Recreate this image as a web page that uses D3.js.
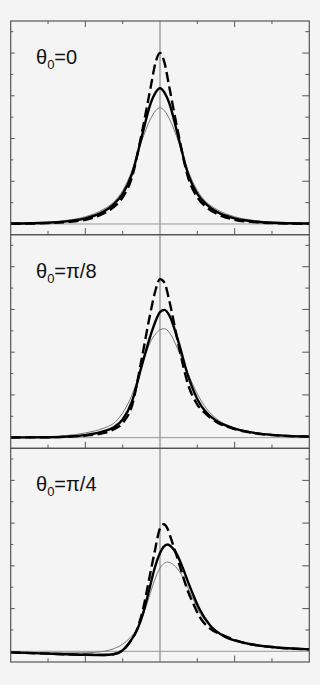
<!DOCTYPE html>
<html>
<head>
<meta charset="utf-8">
<script src="https://cdn.jsdelivr.net/npm/d3@7"></script>
<style>
  html, body { margin: 0; padding: 0; background: #f4f4f4; }
  svg { display: block; }
</style>
</head>
<body>
<script>
const width = 320
const height = 685

// x grid shared by the two upper panels
const xs = [-4, -3, -2.5, -2, -1.5, -1.25, -1, -0.75, -0.5, -0.25, -0.12, 0, 0.12, 0.25, 0.5, 0.75, 1, 1.25, 1.5, 2, 2.5, 3, 4]

const p1_thick  = [0.02, 0.06, 0.12, 0.26, 0.59, 0.91, 1.41, 2.35, 4.0, 5.65, 6.15, 6.35, 6.15, 5.65, 4.0, 2.35, 1.41, 0.91, 0.59, 0.26, 0.12, 0.06, 0.02]
const p1_dashed = [0.01, 0.04, 0.09, 0.2, 0.5, 0.78, 1.25, 2.19, 4.15, 6.4, 7.55, 8.0, 7.55, 6.4, 4.15, 2.19, 1.25, 0.78, 0.5, 0.2, 0.09, 0.04, 0.01]
const p1_thin   = [0.04, 0.09, 0.17, 0.34, 0.7, 1.01, 1.56, 2.5, 3.83, 4.93, 5.3, 5.44, 5.3, 4.93, 3.83, 2.5, 1.56, 1.01, 0.7, 0.34, 0.17, 0.09, 0.04]

const p2_thick  = [0.01, 0.02, 0.05, 0.12, 0.3, 0.48, 0.85, 1.7, 3.3, 4.8, 5.45, 5.88, 5.98, 5.72, 4.45, 2.9, 1.8, 1.16, 0.8, 0.42, 0.23, 0.13, 0.05]
const p2_dashed = [0.01, 0.02, 0.04, 0.1, 0.22, 0.38, 0.69, 1.5, 3.6, 5.9, 6.9, 7.42, 7.25, 6.4, 4.3, 2.5, 1.55, 1.08, 0.75, 0.4, 0.22, 0.12, 0.05]
const p2_thin   = [0.02, 0.05, 0.1, 0.22, 0.45, 0.66, 1.16, 2.0, 3.27, 4.5, 4.85, 5.05, 5.1, 4.92, 4.05, 3.0, 2.05, 1.35, 0.9, 0.46, 0.25, 0.15, 0.07]

// lower panel is asymmetric, so its own grid
const xs3 = [-4, -3, -2, -1.5, -1.25, -1, -0.8, -0.6, -0.45, -0.3, -0.15, 0, 0.1, 0.2, 0.3, 0.45, 0.6, 0.75, 0.9, 1.05, 1.35, 1.7, 2.2, 3, 4]

const p3_thick  = [-0.05, -0.11, -0.16, -0.17, -0.14, 0.05, 0.45, 1.05, 1.8, 2.8, 3.85, 4.6, 4.9, 5.0, 4.9, 4.55, 3.95, 3.25, 2.6, 2.0, 1.2, 0.72, 0.42, 0.2, 0.09]
const p3_dashed = [-0.05, -0.11, -0.16, -0.17, -0.14, 0.05, 0.45, 1.1, 2.0, 3.3, 4.6, 5.75, 5.95, 5.75, 5.25, 4.45, 3.6, 2.8, 2.2, 1.65, 1.05, 0.75, 0.42, 0.2, 0.09]
const p3_thin   = [-0.05, -0.08, -0.07, 0.0, 0.12, 0.33, 0.64, 1.08, 1.7, 2.5, 3.3, 3.9, 4.1, 4.18, 4.12, 3.9, 3.5, 2.95, 2.4, 1.85, 1.19, 0.74, 0.43, 0.21, 0.1]

const labels = ['0', 'π/8', 'π/4']

const x_major = [-2, 2]
const x_minor = [-3, -1, 1, 3]
const y_major = [2, 4, 6, 8]
const y_minor = [1, 3, 5, 7, 9]

const panels = [
  {label: labels[0], xs: xs, thick: p1_thick, dashed: p1_dashed, thin: p1_thin},
  {label: labels[1], xs: xs, thick: p2_thick, dashed: p2_dashed, thin: p2_thin},
  {label: labels[2], xs: xs3, thick: p3_thick, dashed: p3_dashed, thin: p3_thin},
]

const margin = {top: 21, right: 10.7, bottom: 23, left: 10.7}
const panel_h = (height - margin.top - margin.bottom) / panels.length

const frame_color = '#555'

const svg = d3.select('body').append('svg')
  .attr('width', width)
  .attr('height', height)
  .attr('viewBox', `0 0 ${width} ${height}`)

svg.append('rect')
  .attr('width', width)
  .attr('height', height)
  .attr('fill', '#f4f4f4')

const x = d3.scaleLinear()
  .domain([-4, 4])
  .range([margin.left, width - margin.right])

panels.forEach((p, i) => {
  const top = margin.top + i * panel_h
  const bottom = top + panel_h

  const y = d3.scaleLinear()
    .domain([-0.5, 9.5])
    .range([bottom, top])

  const g = svg.append('g')

  // zero line
  g.append('line')
    .attr('x1', x(-4)).attr('x2', x(4))
    .attr('y1', y(0)).attr('y2', y(0))
    .attr('stroke', '#999')
    .attr('stroke-width', 1)

  // centre line
  g.append('line')
    .attr('x1', x(0)).attr('x2', x(0))
    .attr('y1', top).attr('y2', bottom)
    .attr('stroke', '#999')
    .attr('stroke-width', 1.4)

  const line = ys => d3.line()
    .x((d, k) => x(p.xs[k]))
    .y(d => y(d))
    .curve(d3.curveMonotoneX)(ys)

  g.append('path')
    .attr('d', line(p.thin))
    .attr('fill', 'none')
    .attr('stroke', '#777')
    .attr('stroke-width', 1)

  g.append('path')
    .attr('d', line(p.thick))
    .attr('fill', 'none')
    .attr('stroke', '#000')
    .attr('stroke-width', 2.4)

  g.append('path')
    .attr('d', line(p.dashed))
    .attr('fill', 'none')
    .attr('stroke', '#000')
    .attr('stroke-width', 2.4)
    .attr('stroke-dasharray', '10,4.5')

  // y ticks, left and right, pointing inward
  const y_ticks = [
    ...y_major.map(v => ({v, major: true})),
    ...y_minor.map(v => ({v, major: false})),
  ]
  g.selectAll('.yl')
    .data(y_ticks)
    .join('line')
      .attr('x1', x(-4))
      .attr('x2', d => x(-4) + (d.major ? 4 : 2.5))
      .attr('y1', d => y(d.v)).attr('y2', d => y(d.v))
      .attr('stroke', frame_color)
      .attr('stroke-width', 1)
  g.selectAll('.yr')
    .data(y_ticks)
    .join('line')
      .attr('x1', x(4))
      .attr('x2', d => x(4) - (d.major ? 7 : 4))
      .attr('y1', d => y(d.v)).attr('y2', d => y(d.v))
      .attr('stroke', frame_color)
      .attr('stroke-width', 1)

  // x ticks along the bottom of each panel
  const x_ticks = [
    ...x_major.map(v => ({v, major: true})),
    ...x_minor.map(v => ({v, major: false})),
  ]
  g.selectAll('.xb')
    .data(x_ticks)
    .join('line')
      .attr('x1', d => x(d.v)).attr('x2', d => x(d.v))
      .attr('y1', bottom)
      .attr('y2', d => bottom - (d.major ? 6.5 : 3.7))
      .attr('stroke', frame_color)
      .attr('stroke-width', 1)

  if (i == 0) {
    g.selectAll('.xt')
      .data(x_ticks)
      .join('line')
        .attr('x1', d => x(d.v)).attr('x2', d => x(d.v))
        .attr('y1', top)
        .attr('y2', d => top + (d.major ? 6 : 3))
        .attr('stroke', frame_color)
        .attr('stroke-width', 1)
  }

  // frame
  g.append('rect')
    .attr('x', x(-4))
    .attr('y', top)
    .attr('width', x(4) - x(-4))
    .attr('height', panel_h)
    .attr('fill', 'none')
    .attr('stroke', frame_color)
    .attr('stroke-width', 1.2)

  const label = g.append('text')
    .attr('x', 36)
    .attr('y', top + 43)
    .attr('font-family', 'Liberation Sans, Arial, sans-serif')
    .attr('font-size', 20)
    .attr('fill', '#111')
  label.append('tspan').text('θ')
  label.append('tspan').attr('font-size', 13).attr('dy', 5).text('0')
  label.append('tspan').attr('dy', -5).text('=' + p.label)
})
</script>
</body>
</html>
